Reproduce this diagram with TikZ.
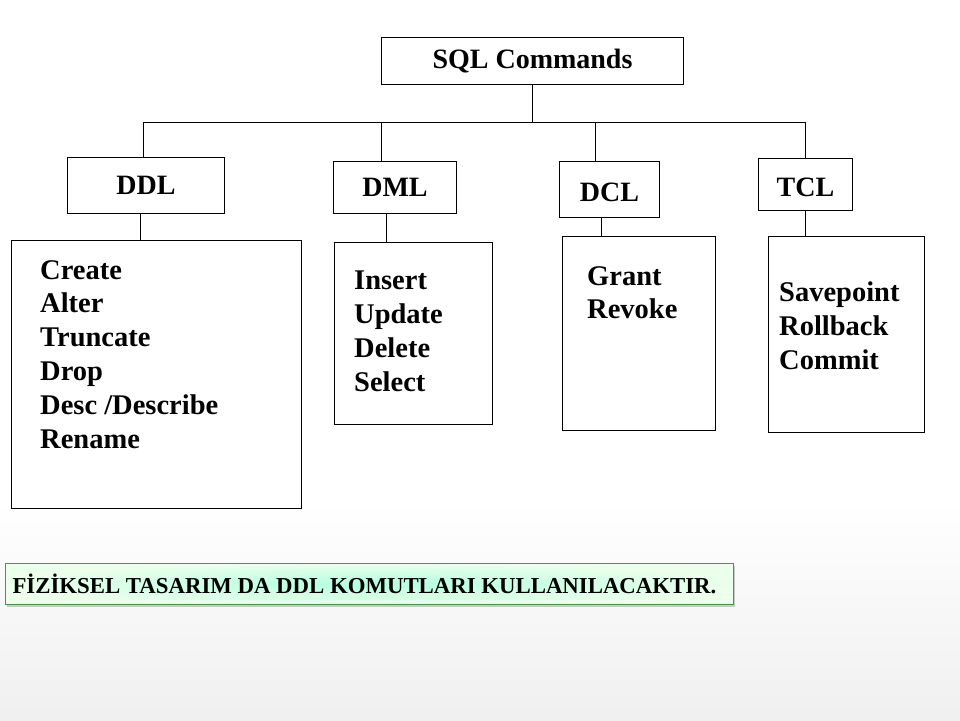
\documentclass[tikz,border=0pt]{standalone}
\usepackage{fontspec}
\setmainfont{Liberation Serif}
\usetikzlibrary{shadows}
\begin{document}
\begin{tikzpicture}[x=1pt,y=-1pt,
  bx/.style={draw,line width=1pt,anchor=north west,inner sep=0pt},
  lbl/.style={font=\fontsize{28}{30}\selectfont\bfseries},
  lst/.style={font=\fontsize{28.5}{33.8}\selectfont\bfseries,align=left,anchor=north west,inner sep=0pt},
  ln/.style={line width=1pt}]
\useasboundingbox (0,0) rectangle (960,720);
\shade[top color=white,bottom color=gray!12] (0,500) rectangle (960,720);
% header boxes
\node[bx,minimum width=302pt,minimum height=47pt] (sql) at (381,37) {};
\node[lbl] at (sql.center) {SQL Commands};
\node[bx,minimum width=157pt,minimum height=56pt] (ddl) at (67,157) {};
\node[lbl] at (ddl.center) {DDL};
\node[bx,minimum width=123pt,minimum height=52pt] (dml) at (333,161) {};
\node[lbl] at (dml.center) {DML};
\node[bx,minimum width=100pt,minimum height=56pt] (dcl) at (559,161) {};
\node[lbl] at ([yshift=-3pt]dcl.center) {DCL};
\node[bx,minimum width=94pt,minimum height=52pt] (tcl) at (758,158) {};
\node[lbl] at ([yshift=-3pt]tcl.center) {TCL};
% list boxes
\node[bx,minimum width=290pt,minimum height=268pt] (ddll) at (11,240) {};
\node[bx,minimum width=158pt,minimum height=182pt] (dmll) at (334,242) {};
\node[bx,minimum width=153pt,minimum height=194pt] (dcll) at (562,236) {};
\node[bx,minimum width=156pt,minimum height=196pt] (tcll) at (768,236) {};
\node[lst] (t1) at (40,260) {Create\\Alter\\Truncate\\Drop\\Desc /Describe\\Rename};
\node[lst] (t2) at (354,271) {Insert\\Update\\Delete\\Select};
\node[lst] (t3) at (587,266) {Grant\\Revoke};
\node[lst] (t4) at (779,282) {Savepoint\\Rollback\\Commit};
% connectors
\coordinate (bl) at (143,122);
\coordinate (br) at (805,122);
\draw[ln] (sql.south) -- (sql.south |- bl);
\draw[ln] (bl) -- (br);
\draw[ln] (bl) -- (bl |- ddl.north);
\draw[ln] (381,122) -- (381,161);
\draw[ln] (595,122) -- (595,161);
\draw[ln] (br) -- (br |- tcl.north);
\draw[ln] (140,213) -- (140,240);
\draw[ln] (386,213) -- (386,242);
\draw[ln] (601,217) -- (601,236);
\draw[ln] (805,210) -- (805,236);
% caption
\node[anchor=north west,minimum width=728pt,minimum height=41pt,inner sep=0pt,
  draw=green!40!black!70,line width=0.8pt,
  inner color=green!40!cyan!30!white,outer color=green!8!white,
  drop shadow={shadow xshift=2pt,shadow yshift=-3pt,opacity=0.4}] (cap) at (5,563) {};
\node[font=\fontsize{22.8}{24}\selectfont\bfseries,anchor=west] at ([xshift=4pt]cap.west) {FİZİKSEL TASARIM DA DDL KOMUTLARI KULLANILACAKTIR.};
\end{tikzpicture}
\end{document}
